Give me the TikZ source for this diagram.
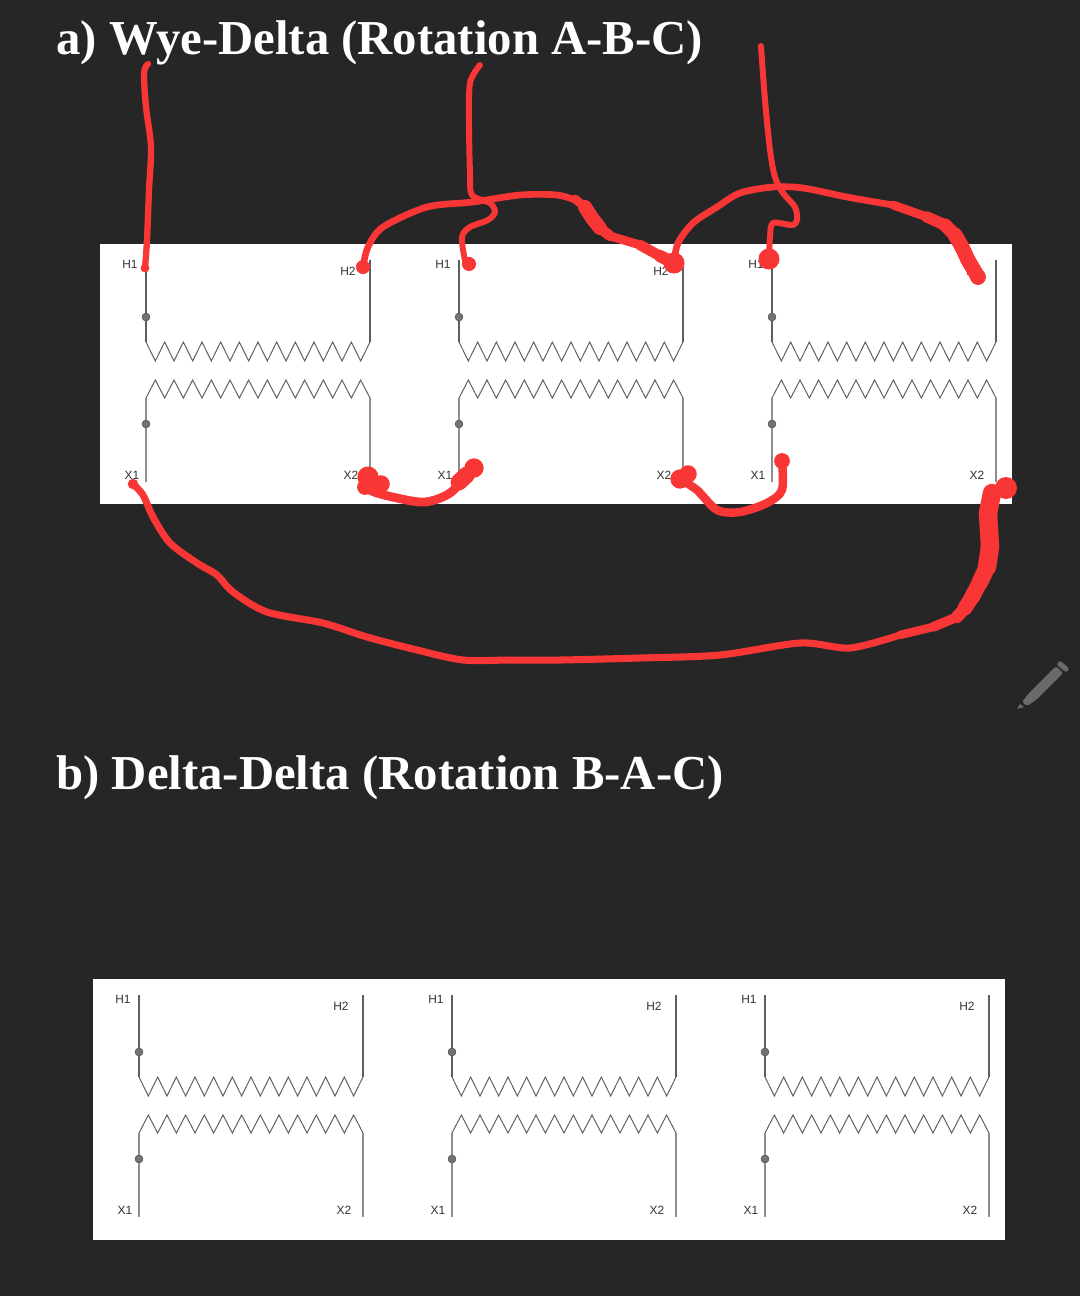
\documentclass[tikz,border=0pt]{standalone}
\usepackage{fontspec}
\setmainfont{Liberation Serif}
\setsansfont{Liberation Sans}
\usepackage{tikz}
\usetikzlibrary{calc,positioning}
\definecolor{page}{HTML}{262626}
\definecolor{ink}{HTML}{F93636}
\definecolor{wirehi}{HTML}{5E5E5E}
\definecolor{wirelo}{HTML}{8E8E8E}
\definecolor{pencil}{HTML}{6A6A6A}
\tikzstyle{title}  = [anchor=base west, inner sep=0pt, text=white, font=\bfseries\fontsize{27.75}{30}\selectfont]
\tikzstyle{panel}  = [fill=white, draw=none]
\tikzstyle{wire}   = [line width=0.65pt, wirehi]
\tikzstyle{wirex}  = [line width=0.65pt, wirelo]
\tikzstyle{coil}   = [line width=0.55pt, wirehi, line join=miter]
\tikzstyle{term}   = [inner sep=0pt, text=black!80, font=\sffamily\fontsize{6.8}{8}\selectfont]
\tikzstyle{polar}  = [circle, draw=black!70, fill=black!55, line width=0.3pt, minimum size=4.5pt, inner sep=0pt]
\tikzstyle{stroke} = [ink, line cap=round, line join=round]
\tikzstyle{blob}   = [circle, fill=ink, inner sep=0pt]

\begin{document}
\begin{tikzpicture}[x=0.02cm,y=-0.02cm]
	\useasboundingbox (0,0) rectangle (1080,1296);
	\fill[page] (0,0) rectangle (1080,1296);

	\node[title] (titlea) at (56,54) {a) Wye-Delta (Rotation A-B-C)};
	\node[title] (titleb) at (56,789) {b) Delta-Delta (Rotation B-A-C)};

	% the two panels, each with three transformers
	\fill[panel] (100,244) rectangle (1012,504);
	\fill[panel] (93,979) rectangle (1005,1240);
	\foreach \p/\dx/\dy in {a/7/-735,b/0/0} {
		\foreach \u/\x in {1/139,2/452,3/765} {
			\begin{scope}[shift={(\x+\dx,\dy)}]
				\coordinate (\p\u ht) at (0,995);
				\coordinate (\p\u hb) at (0,1077);
				\coordinate (\p\u rt) at (224,995);
				\coordinate (\p\u rb) at (224,1077);
				\coordinate (\p\u xt) at (0,1133);
				\coordinate (\p\u xb) at (0,1217);
				\coordinate (\p\u st) at (224,1133);
				\coordinate (\p\u sb) at (224,1217);
				\node[polar] (\p\u dh) at (0,1052) {};
				\node[polar] (\p\u dx) at (0,1159) {};
				\draw[wire] (\p\u ht) -- (\p\u dh) -- (\p\u hb);
				\draw[wire] (\p\u rt) -- (\p\u rb);
				\draw[wirex] (\p\u xt) -- (\p\u dx) -- (\p\u xb);
				\draw[wirex] (\p\u st) -- (\p\u sb);
				\draw[coil] (\p\u hb) foreach \k in {1,...,12} {-- ++(9.333,19) -- ++(9.333,-19)};
				\draw[coil] (\p\u xt) foreach \k in {1,...,12} {-- ++(9.333,-18) -- ++(9.333,18)};
				\node[term] (\p\u H1) at (-16,999) {H1};
				\node[term] (\p\u H2) at (202,1006) {H2};
				\node[term] (\p\u X1) at (-14,1210) {X1};
				\node[term] (\p\u X2) at (205,1210) {X2};
			\end{scope}
		}
	}

	% pencil mark
	\begin{scope}
		\clip (900,600) rectangle (1079,760);
		\draw[line width=0.5pt,color=white!2!page] (1045,683) circle (56);
	\end{scope}
	\fill[pencil,rounded corners=1pt] (1022,702) -- (1030,692) -- (1056,666) -- (1063,673) -- (1036,700) -- (1027,706) -- cycle;
	\fill[pencil] (1017,709) -- (1020,704) -- (1024,707) -- cycle;
	\draw[pencil,line width=3pt,line cap=round] (1060,664) -- (1066,669);

	% hand-drawn connections
	\coordinate (lineA) at (148,64);
	\coordinate (lineB) at (480,65);
	\coordinate (lineC) at (761,46);
	\node[blob,minimum size=5pt] (endH1a) at (145,268) {};
	\node[blob,minimum size=8pt] (endH2a) at (363,267) {};
	\node[blob,minimum size=8pt] (endH1b) at (469,264) {};
	\node[blob,minimum size=12pt] (endH2b) at (674,263) {};
	\node[blob,minimum size=12pt] (endH1c) at (769,259) {};
	\node[blob,minimum size=9pt] (endH2c) at (978,277) {};
	\node[blob,minimum size=6pt] (endX1a) at (133,484) {};
	\node[blob,minimum size=12pt] (endX2a) at (368,477) {};
	\node[blob,minimum size=11pt] (endX1b) at (474,468) {};
	\node[blob,minimum size=11pt] (endX2b) at (680,479) {};
	\node[blob,minimum size=9pt] (endX1c) at (782,461) {};
	\node[blob,minimum size=12.5pt] (endX2c) at (1006,488) {};

	\draw[stroke,line width=3.6pt] plot[smooth,tension=0.5] coordinates {(lineA) (144,73) (146,107) (151,147) (149,190) (147,240) (endH1a)};
	\draw[stroke,line width=3.8pt] plot[smooth,tension=0.5] coordinates {(endH2a) (368,247) (383,227) (427,207) (473,202) (520,195) (557,195) (578,201)};
	\draw[stroke,line width=3.4pt] plot[smooth,tension=0.5] coordinates {(lineB) (470,83) (469,123) (470,173) (472,195) (490,203) (495,212) (488,220) (470,227) (462,237) (465,260) (endH1b)};
	\draw[stroke,line width=3.8pt] plot[smooth,tension=0.5] coordinates {(endH2b) (678,243) (693,223) (717,207) (740,193) (773,187) (803,188) (847,197) (893,205)};
	\draw[stroke,line width=3.4pt] plot[smooth,tension=0.5] coordinates {(lineC) (765,100) (770,150) (775,177) (783,193) (795,207) (797,220) (792,225) (773,223) (770,237) (endH1c)};
	\draw[stroke,line width=4.8pt] plot[smooth,tension=0.5] coordinates {(endX2b) (697,490) (717,510) (740,512) (767,503) (782,490) (endX1c)};
	\node[blob,minimum size=10pt] (lumpX2b) at (688,474) {};
	\draw[stroke,line width=5pt] plot[smooth,tension=0.5] coordinates {(endX2a) (370,490) (397,498) (425,502) (450,493) (endX1b)};
	\node[blob,minimum size=9pt] (lumpX2a) at (365,487) {};
	\node[blob,minimum size=10pt] (lumpX2aa) at (381,484) {};
	\draw[stroke,line width=9pt] (lumpX2a) -- (lumpX2aa);
	\draw[stroke,line width=9.5pt] (459,482) -- (endX1b);
	\draw[stroke,line width=4pt] plot[smooth,tension=0.5] coordinates {(endX1a) (143,495) (153,517) (170,543) (197,563) (217,575) (233,592) (267,612) (323,623) (367,637) (417,650) (463,660) (510,660) (560,660) (640,658) (720,655) (800,643) (850,648) (900,635)};

	% the parts where the pen presses harder
	\foreach \x/\y/\v/\z/\w in {
		575/199/585/207/5,585/207/592/218/8,592/218/600/228/8,600/228/610/236/6,610/236/640/245/5,640/245/660/256/6,660/256/674/263/7,
		893/205/927/217/5,927/217/945/225/6.5,945/225/955/235/7.5,955/235/962/247/8.5,962/247/968/260/8.5,968/260/978/277/8.5,
		900/635/933/627/4.8,933/627/957/617/5.5,957/617/965/608/7,965/608/972/597/8.5,972/597/980/582/9,980/582/987/567/9.5,
		987/567/990/547/10.5,990/547/989/530/10.5,989/530/988/513/10.5,988/513/992/493/10.5} {
		\draw[stroke,line width=\w pt] (\x,\y) -- (\v,\z);
	}
\end{tikzpicture}
\end{document}
